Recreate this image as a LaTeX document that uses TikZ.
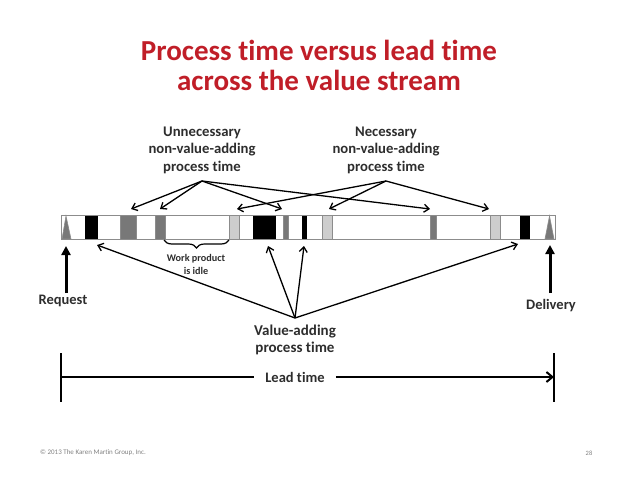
\documentclass[tikz,border=0pt]{standalone}
\usepackage{fontspec}
\setmainfont{Carlito}[Ligatures=NoCommon]
\usetikzlibrary{arrows.meta,decorations.pathreplacing}
\definecolor{titlered}{RGB}{192,30,40}
\definecolor{txtgray}{RGB}{45,45,45}
\definecolor{dgray}{RGB}{120,120,120}
\definecolor{lgray}{RGB}{205,205,205}
\definecolor{edgegray}{RGB}{140,140,140}
\begin{document}
\begin{tikzpicture}[x=1pt,y=-1pt,
  lbl/.style={font=\bfseries\fontsize{14.7}{17.5}\selectfont, text=txtgray, align=center, inner sep=0pt},
  sidelbl/.style={lbl, font=\bfseries\fontsize{14.5}{17}\selectfont},
  thinarrow/.style={line width=1.3pt, -{Straight Barb[length=5pt,width=8pt,line width=1.3pt]}},
  bigarrow/.style={line width=3pt, -{Triangle[length=9pt,width=9pt]}},
  blk/.style={draw=edgegray, line width=0.6pt},
  bar/.style={draw=edgegray, line width=0.8pt, fill=white}]
\useasboundingbox (0,0) rectangle (638,493);
% title
\node[font=\bfseries\fontsize{29}{30}\selectfont, text=titlered, align=center] (title) at (319,65)
  {Process time versus lead time\\across the value stream};
% bar
\draw[bar] (61,215) rectangle (555,239);
\foreach \a/\b in {85/98, 253/276, 302/307, 520/530}
  \fill[black] (\a,215) rectangle (\b,239);
\foreach \a/\b in {120/136, 155/165, 283/288, 430/436}
  \draw[blk, fill=dgray] (\a,215) rectangle (\b,239);
\foreach \a/\b in {229/239, 322/332, 490/500}
  \draw[blk, fill=lgray] (\a,215) rectangle (\b,239);
\draw[blk, fill=dgray] (62,239) -- (71,239) -- (66,216) -- cycle;
\draw[blk, fill=dgray] (545,239) -- (554,239) -- (549.5,216) -- cycle;
\draw[bar, fill=none] (61,215) rectangle (555,239);
% brace
\draw[line width=1.2pt, decorate, decoration={brace, mirror, amplitude=8pt}]
  (164,240) -- (229,240);
\node[font=\bfseries\fontsize{10.2}{13}\selectfont, text=txtgray, align=center] (idle) at (196,264)
  {Work product\\is idle};
% labels
\node[lbl] (unn) at (202,150) {Unnecessary\\non-value-adding\\process time};
\node[lbl] (nec) at (386,150) {Necessary\\non-value-adding\\process time};
\node[lbl, font=\bfseries\fontsize{15}{17.5}\selectfont] (va) at (295,340) {Value-adding\\process time};
\coordinate (uo) at (202,181);
\coordinate (no) at (386,181);
\coordinate (vo) at (295,318);
\coordinate (u1) at (131,209);
\coordinate (u2) at (160,209);
\coordinate (u3) at (282,209);
\coordinate (u4) at (430,209);
\coordinate (n1) at (237,209);
\coordinate (n2) at (329,209);
\coordinate (n3) at (489,209);
\coordinate (v1) at (97,245);
\coordinate (v2) at (268,246);
\coordinate (v3) at (304,246);
\coordinate (v4) at (518,244);
\foreach \t in {u1,u2,u3,u4} \draw[thinarrow] (uo) -- (\t);
\foreach \t in {n1,n2,n3} \draw[thinarrow] (no) -- (\t);
\foreach \t in {v1,v2,v3,v4} \draw[thinarrow] (vo) -- (\t);
% request / delivery
\node[sidelbl] (req) at (63,301) {Request};
\node[sidelbl] (del) at (551,306) {Delivery};
\coordinate (reqtip) at (66,246);
\coordinate (deltip) at (550,245);
\draw[bigarrow] (66,293) -- (reqtip);
\draw[bigarrow] (550,293) -- (deltip);
% lead time
\coordinate (ls) at (61,377);
\coordinate (le) at (554,377);
\draw[line width=2pt] (61,353) -- (61,402);
\draw[line width=2pt] (554,353) -- (554,402);
\node[sidelbl, inner xsep=11pt] (lead) at (295,377) {Lead time};
\draw[line width=2pt] (ls) -- (lead.west);
\draw[line width=2pt, -{Straight Barb[length=6pt,width=10pt,line width=2pt]}] (lead.east) -- (le);
% footer
\node[anchor=west, font=\fontsize{7}{8}\selectfont, text=gray, inner sep=0pt] (copy) at (40,453)
  {© 2013 The Karen Martin Group, Inc.};
\node[font=\fontsize{6.5}{7}\selectfont, text=gray, inner sep=0pt] (pg) at (589,453) {28};
\end{tikzpicture}
\end{document}
